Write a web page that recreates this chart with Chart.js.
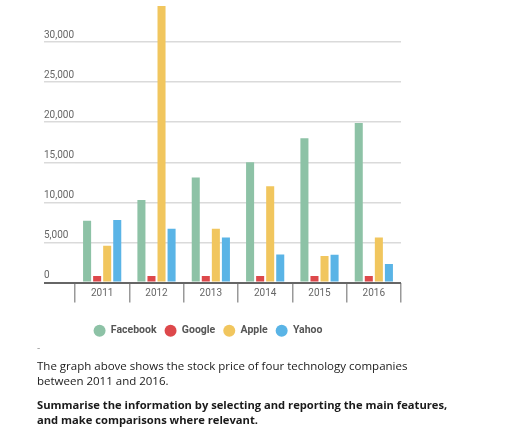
<!DOCTYPE html>
<html>
<head>
<meta charset="utf-8">
<script src="https://cdn.jsdelivr.net/npm/chart.js@4.4.0/dist/chart.umd.min.js"></script>
<style>
  body { margin: 0; background: #fff; }
  #wrap { position: absolute; left: 0; top: 0; width: 512px; height: 346px; }
  .dash { position: absolute; left: 37px; top: 340px; font: 10px "Open Sans", sans-serif; color: #999; }
  .note { position: absolute; left: 37px; width: 475px; margin: 0; font-family: "Open Sans", sans-serif; font-size: 11.5px; line-height: 15px; color: #1a1a1a; white-space: nowrap; }
  #p1 { top: 358px; }
  #p2 { top: 397px; font-weight: bold; font-size: 11.2px; }
</style>
</head>
<body>
<div id="wrap"><canvas id="stockChart"></canvas></div>
<div class="dash">-</div>
<p class="note" id="p1">The graph above shows the stock price of four technology companies<br>between 2011 and 2016.</p>
<p class="note" id="p2">Summarise the information by selecting and reporting the main features,<br>and make comparisons where relevant.</p>
<script>
// values
const years = ['2011', '2012', '2013', '2014', '2015', '2016'];
const facebook = [7700, 10300, 13100, 15000, 18000, 19900];
const google = [800, 800, 800, 800, 800, 800];
const apple = [4600, 34500, 6700, 12000, 3300, 5600];
const yahoo = [7800, 6700, 5600, 3500, 3450, 2300];

const tickFont = { family: 'Roboto', size: 10 };

// baseline (0) is darker and thicker than the other grid lines
const gridColor = ctx => (ctx.tick && ctx.tick.value === 0 ? '#666' : '#dadada');
const gridWidth = ctx => (ctx.tick && ctx.tick.value === 0 ? 2 : 1.5);

document.addEventListener("DOMContentLoaded", function () {
  const ctx = document.getElementById('stockChart').getContext('2d');
  new Chart(ctx, {
    type: 'bar',
    data: {
      labels: years,
      datasets: [
        { label: 'Facebook', data: facebook, backgroundColor: '#8dc2a6' },
        { label: 'Google', data: google, backgroundColor: '#dd484b' },
        { label: 'Apple', data: apple, backgroundColor: '#f1c65e' },
        { label: 'Yahoo', data: yahoo, backgroundColor: '#5ab4e6' }
      ]
    },
    options: {
      responsive: true,
      maintainAspectRatio: false,
      animation: false,
      layout: { padding: { left: 15, right: 111, top: 2, bottom: 0 } },
      datasets: { bar: { barPercentage: 0.8, categoryPercentage: 0.74 } },
      plugins: {
        tooltip: { enabled: false },
        legend: {
          position: 'bottom',
          labels: {
            usePointStyle: true,
            pointStyle: 'circle',
            pointStyleWidth: 12,
            boxHeight: 8.5,
            padding: 8,
            color: '#555',
            font: { family: 'Roboto', size: 10.5, weight: 'bold' }
          }
        }
      },
      scales: {
        x: {
          grid: { offset: true, drawOnChartArea: false, tickLength: 20, color: '#999', lineWidth: 1.5 },
          border: { display: false },
          ticks: { padding: -15, color: '#666', font: tickFont },
          afterFit: s => { s.height = 35; }
        },
        y: {
          min: 0,
          max: 35000,
          afterBuildTicks: s => { s.ticks = s.ticks.filter(t => t.value <= 30000); },
          grid: { color: gridColor, lineWidth: gridWidth, tickLength: 31 },
          border: { display: false },
          ticks: { stepSize: 5000, crossAlign: 'far', labelOffset: -7, color: '#666', font: tickFont },
          afterFit: s => { s.width = 31; s.paddingTop = 0; s.paddingBottom = 0; }
        },
        // empty spacer on the left so the legend sits where it does in the picture
        pad: {
          type: 'linear',
          position: 'left',
          weight: 1,
          grid: { display: false },
          border: { display: false },
          ticks: { display: false },
          afterFit: s => { s.width = 29; }
        }
      }
    }
  });
});
</script>
</body>
</html>
